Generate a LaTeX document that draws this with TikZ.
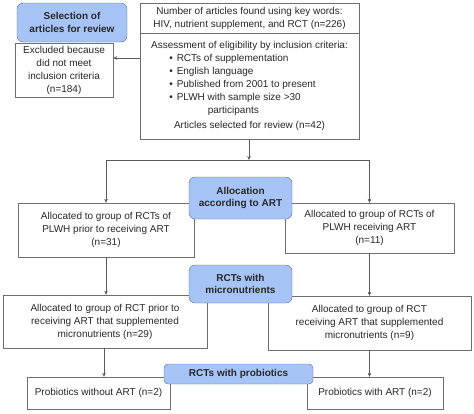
\documentclass[tikz,border=0pt]{standalone}
\usepackage{fontspec}
\setmainfont{Liberation Sans}
\usepackage{tikz}
\usetikzlibrary{arrows.meta, positioning, calc}
\definecolor{boxgray}{RGB}{110, 110, 110}
\definecolor{linegray}{RGB}{90, 90, 90}
\definecolor{tabblue}{RGB}{166, 196, 246}
\definecolor{blueedge}{RGB}{95, 108, 140}
\definecolor{inktext}{RGB}{40, 40, 40}
\tikzset{
  whitebox/.style={draw=boxgray, fill=white, font=\fontsize{10}{13}\selectfont, text=inktext, align=center, inner sep=0pt},
  bluebox/.style={draw=blueedge, fill=tabblue, rounded corners=6pt, font=\fontsize{10}{12.5}\selectfont\bfseries, text=inktext, align=center, inner sep=0pt},
  arr/.style={-{Stealth[length=4pt, width=3.6pt]}, draw=linegray},
}

\begin{document}
\begin{tikzpicture}[x=1pt, y=-1pt]
  \useasboundingbox (0, 0) rectangle (474, 413);

  % Search and screening
  \node[bluebox, minimum width=110pt, minimum height=39pt] (select) at (72, 22.5) {Selection of\\articles for review};
  \node[whitebox, minimum width=98pt, minimum height=54pt] (excl) at (64, 70) {Excluded because\\did not meet\\inclusion criteria\\(n=184)};
  \node[whitebox, minimum width=219pt, minimum height=30pt] (found) at (249.5, 18) {Number of articles found using key words:\\HIV, nutrient supplement, and RCT (n=226)};
  \node[whitebox, minimum width=219pt, minimum height=106pt] (elig) at (249.5, 86) {
    Assessment of eligibility by inclusion criteria:\\[1pt]
    \begin{tabular}{@{}l@{\hspace{4pt}}l@{\hspace{14pt}}}
      \textbullet & RCTs of supplementation\\
      \textbullet & English language\\
      \textbullet & Published from 2001 to present\\
      \textbullet & PLWH with sample size >30\\
                  & \hspace{31pt}participants
    \end{tabular}\\[3pt]
    Articles selected for review (n=42)
  };

  % Allocation by ART
  \node[whitebox, minimum width=176pt, minimum height=54pt] (priorart) at (106, 230) {Allocated to group of RCTs of\\PLWH prior to receiving ART\\(n=31)};
  \node[whitebox, minimum width=169pt, minimum height=50pt] (withart) at (369.5, 228) {Allocated to group of RCTs of\\PLWH receiving ART\\(n=11)};

  % Micronutrients
  \node[whitebox, minimum width=204pt, minimum height=53pt] (priormicro) at (105, 321.5) {Allocated to group of RCT prior to\\receiving ART that supplemented\\micronutrients (n=29)};
  \node[whitebox, minimum width=203pt, minimum height=54pt] (withmicro) at (369.5, 323) {Allocated to group of RCT\\receiving ART that supplemented\\micronutrients (n=9)};

  % Probiotics
  \node[whitebox, minimum width=143pt, minimum height=32pt] (probno) at (98.5, 393) {Probiotics without ART (n=2)};
  \node[whitebox, minimum width=136pt, minimum height=32pt] (probyes) at (375, 393) {Probiotics with ART (n=2)};

  % Connectors
  \coordinate (exclin) at ($(excl.east)+(0,-12)$);
  \draw[arr] (elig.west |- exclin) -- (exclin);
  \coordinate (split) at (249, 160);
  \draw[arr] (elig.south -| split) -- (split);
  \draw[draw=linegray] (priorart.north |- split) -- (withart.north |- split);
  \draw[arr] (priorart.north |- split) -- (priorart.north);
  \draw[arr] (withart.north |- split) -- (withart.north);
  \draw[arr] (priorart.south) -- (priorart.south |- priormicro.north);
  \draw[arr] (withart.south) -- (withart.south |- withmicro.north);
  \draw[arr] ([xshift=-1pt]priormicro.south) -- ([xshift=-1pt]priormicro.south |- probno.north);
  \draw[arr] (withmicro.south) -- (withmicro.south |- probyes.north);

  % Stage labels on top
  \node[bluebox, minimum width=103pt, minimum height=42pt] (alloc) at (240.5, 198) {Allocation\\according to ART};
  \node[bluebox, minimum width=103pt, minimum height=38pt] (micro) at (240.5, 284) {RCTs with\\micronutrients};
  \node[bluebox, minimum width=149pt, minimum height=20pt, rounded corners=4pt] (probio) at (238.5, 374) {RCTs with probiotics};
\end{tikzpicture}
\end{document}
